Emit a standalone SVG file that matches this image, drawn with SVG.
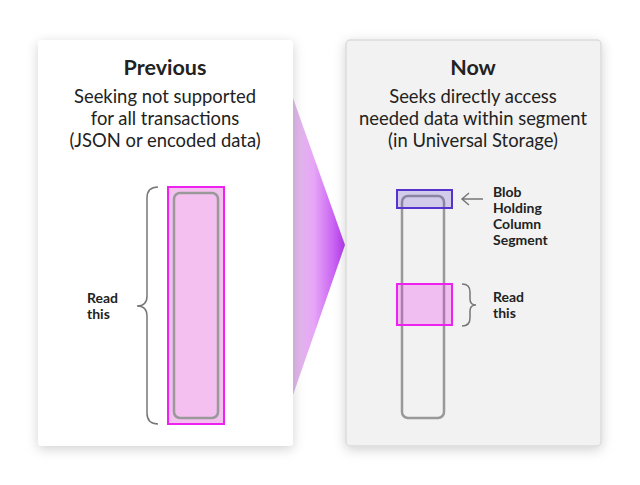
<svg xmlns="http://www.w3.org/2000/svg" width="640" height="485" viewBox="0 0 640 485">
<defs>
<filter id="sh" x="-20%" y="-20%" width="140%" height="140%"><feDropShadow dx="0" dy="3" stdDeviation="6" flood-color="#000" flood-opacity="0.18"/></filter>
<linearGradient id="g" x1="0" x2="1" y1="0" y2="0"><stop offset="0" stop-color="#e0bce8"/><stop offset="0.4" stop-color="#e7a6f7"/><stop offset="1" stop-color="#b73cf0"/></linearGradient>
<style>
text{font-family:Lato,"Open Sans",sans-serif;fill:#222}
.t{font-size:21.5px;font-weight:bold;text-anchor:middle}
.s{font-size:18.4px;text-anchor:middle}
.l{font-size:14px;font-weight:bold}
.col{fill:none;stroke:#999;stroke-width:2.5}
.br{fill:none;stroke:#777;stroke-width:1.5}
</style>
</defs>
<g id="arrow"><path d="M293 98 L345 245 L293 395 Z" fill="url(#g)"/></g>
<g id="previous">
<rect x="38" y="40" width="255" height="406" rx="4" fill="#fff" filter="url(#sh)"/>
<text class="t" x="165" y="75">Previous</text>
<text class="s" x="165" y="103">Seeking not supported</text>
<text class="s" x="165" y="125">for all transactions</text>
<text class="s" x="165" y="147">(JSON or encoded data)</text>
<rect x="168" y="187" width="56" height="237" fill="#f4c0f0" stroke="#ee22ee" stroke-width="2"/>
<rect x="174" y="193" width="44" height="225" rx="6" class="col"/>
<path class="br" d="M158 187 Q147 187 147 198 L147 296 Q147 306 137 306 Q147 306 147 316 L147 413 Q147 424 158 424"/>
<text class="l" x="87" y="303">Read</text>
<text class="l" x="87" y="319">this</text>
</g>
<g id="now">
<rect x="346" y="40" width="255" height="406" rx="4" fill="#f2f2f2" stroke="#dcdcdc" stroke-width="1.5" filter="url(#sh)"/>
<text class="t" x="473" y="75">Now</text>
<text class="s" x="473" y="103">Seeks directly access</text>
<text class="s" x="473" y="125">needed data within segment</text>
<text class="s" x="473" y="147">(in Universal Storage)</text>
<rect x="402" y="196" width="42" height="222" rx="6" class="col"/>
<rect x="397" y="190" width="55" height="18" fill="#5533cc" fill-opacity="0.2" stroke="#5533cc" stroke-width="2"/>
<rect x="397" y="284" width="55" height="41" fill="#ee22ee" fill-opacity="0.25" stroke="#ee22ee" stroke-width="2"/>
<path class="br" d="M462 284 Q470 284 470 292 L470 299 Q470 305 476 305 Q470 305 470 311 L470 318 Q470 326 462 326"/>
<path class="br" d="M483 199 L462 199 M469 193 L462 199 L469 205"/>
<text class="l" x="493" y="197">Blob</text>
<text class="l" x="493" y="213">Holding</text>
<text class="l" x="493" y="229">Column</text>
<text class="l" x="493" y="245">Segment</text>
<text class="l" x="493" y="302">Read</text>
<text class="l" x="493" y="318">this</text>
</g>
</svg>
